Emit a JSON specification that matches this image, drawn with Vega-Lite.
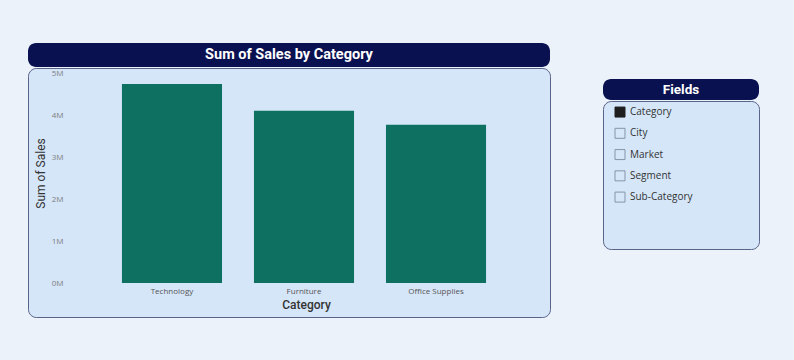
{
  "$schema": "https://vega.github.io/schema/vega-lite/v6.json",
  "background": "#EBF2FA",
  "padding": {"left": 27, "top": 43, "right": 34, "bottom": 43},
  "config": {"view": {"stroke": null}, "concat": {"spacing": 51}},
  "datasets": {
    "sales": [
      {"Category": "Technology", "Sales": 4740000},
      {"Category": "Furniture", "Sales": 4100000},
      {"Category": "Office Supplies", "Sales": 3770000}
    ],
    "fields": [
      {"Field": "Category", "Selected": "Yes"},
      {"Field": "City", "Selected": "No"},
      {"Field": "Market", "Selected": "No"},
      {"Field": "Segment", "Selected": "No"},
      {"Field": "Sub-Category", "Selected": "No"}
    ]
  },
  "hconcat": [
    {
      "spacing": 0,
      "vconcat": [
        {
          "width": 522,
          "height": 24,
          "view": {"fill": "#0A1150", "stroke": null, "cornerRadius": 8},
          "data": {"values": [{"Title": "Sum of Sales by Category"}]},
          "mark": {"type": "text", "color": "#FFFFFF", "font": "Roboto", "fontWeight": "bold", "fontSize": 14.5},
          "encoding": {"text": {"field": "Title"}}
        },
        {
          "width": 522,
          "height": 249,
          "view": {"fill": "#D5E6F8", "stroke": "#5A6388", "strokeWidth": 1, "cornerRadius": 8},
          "data": {"name": "sales"},
          "mark": {"type": "bar", "color": "#0D7060"},
          "encoding": {
            "x": {
              "field": "Category", "type": "nominal", "sort": null,
              "scale": {"paddingInner": 0.242, "paddingOuter": 0.598, "align": 0.595},
              "axis": {
                "title": "Category", "orient": "bottom", "offset": -34, "domain": false, "ticks": false,
                "labelAngle": 0, "labelFontSize": 8, "labelFont": "Open Sans", "labelColor": "#555555", "labelPadding": 4,
                "titleFontSize": 12, "titleFont": "Roboto", "titleFontWeight": 500, "titleColor": "#333333",
                "titlePadding": 4, "titleX": 278
              }
            },
            "y": {
              "field": "Sales", "type": "quantitative",
              "scale": {"domain": [-809524, 5119048], "nice": false, "zero": false},
              "axis": {
                "title": "Sum of Sales", "values": [0, 1000000, 2000000, 3000000, 4000000, 5000000],
                "labelExpr": "datum.value / 1000000 + 'M'", "offset": -37, "domain": false, "ticks": false, "grid": false,
                "labelFontSize": 8, "labelFont": "Open Sans", "labelColor": "#808080", "labelPadding": 2,
                "titleFontSize": 12, "titleFont": "Roboto", "titleFontWeight": "normal", "titleColor": "#333333",
                "titlePadding": 4, "titleY": 105
              }
            },
            "y2": {"datum": 0}
          }
        }
      ]
    },
    {
      "spacing": 0,
      "vconcat": [
        {
          "width": 156,
          "height": 36,
          "data": {"values": []},
          "mark": {"type": "text"},
          "encoding": {}
        },
        {
          "width": 156,
          "height": 21,
          "view": {"fill": "#0A1150", "stroke": null, "cornerRadius": 8},
          "data": {"values": [{"Title": "Fields"}]},
          "mark": {"type": "text", "color": "#FFFFFF", "font": "Roboto", "fontWeight": "bold", "fontSize": 13.5},
          "encoding": {"text": {"field": "Title"}}
        },
        {
          "width": 156,
          "height": 148,
          "view": {"fill": "#D5E6F8", "stroke": "#5A6388", "strokeWidth": 1, "cornerRadius": 8},
          "data": {"name": "fields"},
          "encoding": {
            "y": {"field": "Field", "type": "nominal", "sort": null, "scale": {"type": "band", "paddingInner": 0, "paddingOuter": 0.98, "align": 0.01}, "axis": null},
            "x": {"datum": "box", "type": "nominal", "scale": {"type": "point", "domain": ["box"], "padding": 1, "align": 0.109}, "axis": null}
          },
          "layer": [
            {
              "mark": {"type": "point", "shape": "square", "size": 100, "filled": true, "strokeWidth": 1, "opacity": 1},
              "encoding": {
                "fill": {"field": "Selected", "type": "nominal", "scale": {"domain": ["Yes", "No"], "range": ["#1E1E1E", "rgba(0,0,0,0)"]}, "legend": null},
                "stroke": {"field": "Selected", "type": "nominal", "scale": {"domain": ["Yes", "No"], "range": ["#1E1E1E", "#8595AA"]}, "legend": null}
              }
            },
            {
              "mark": {"type": "text", "align": "left", "baseline": "middle", "dx": 10, "font": "Open Sans", "fontSize": 10, "color": "#333333"},
              "encoding": {"text": {"field": "Field"}}
            }
          ]
        }
      ]
    }
  ]
}
